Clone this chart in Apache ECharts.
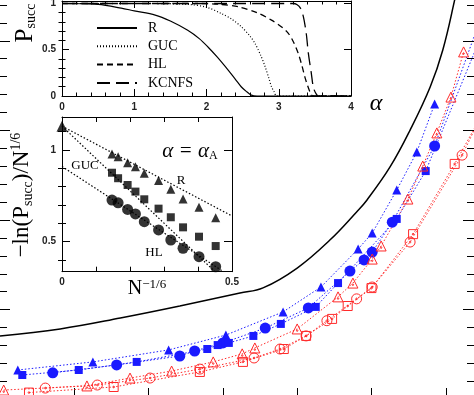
<!DOCTYPE html>
<html>
<head>
<meta charset="utf-8">
<script src="https://cdn.jsdelivr.net/npm/echarts@6/dist/echarts.min.js"></script>
<style>
html,body{margin:0;padding:0;background:#fff;}
#c{width:474px;height:395px;}
</style>
</head>
<body>
<div id="c"></div>
<script>
// ---------- main plot data (arbitrary units: x tick spacing = 1, y major tick spacing = 0.5) ----------
const blackX = [0, 0.81, 1.62, 2.42, 3.23, 3.54, 4.00, 4.44, 4.80, 4.94, 5.25, 5.52, 5.79, 5.96, 6.12, 6.19];
const blackY = [0.353, 0.392, 0.453, 0.520, 0.593, 0.621, 0.732, 0.888, 1.045, 1.112, 1.296, 1.502, 1.742, 1.949, 2.228, 2.367];

const blueTriX = [0.24, 1.25, 2.27, 3.04, 3.81, 4.32, 4.82, 5.01, 5.34, 5.61, 5.85];
const blueTriY = [0.163, 0.208, 0.275, 0.358, 0.487, 0.626, 0.838, 0.927, 1.167, 1.379, 1.647];
const blueCirX = [0.71, 1.57, 2.42, 2.62, 3.00, 3.57, 4.15, 4.71, 4.90, 5.01, 5.28, 5.85, 6.50];
const blueCirY = [0.147, 0.191, 0.241, 0.269, 0.314, 0.397, 0.509, 0.715, 0.777, 0.821, 0.988, 1.413, 2.16];
const blueSqX  = [0.30, 1.06, 1.84, 2.79, 2.93, 3.08, 3.41, 3.78, 4.25, 4.55, 5.34, 5.73, 6.45];
const blueSqY  = [0.135, 0.163, 0.208, 0.280, 0.302, 0.314, 0.353, 0.420, 0.515, 0.648, 1.006, 1.273, 2.0];

const redTriX = [0.05, 1.17, 1.75, 2.31, 2.87, 3.26, 3.43, 4.00, 4.55, 4.75, 5.01, 5.13, 5.49, 5.69, 5.88, 6.07, 6.24];
const redTriY = [0.051, 0.074, 0.118, 0.157, 0.208, 0.253, 0.286, 0.392, 0.571, 0.648, 0.782, 0.855, 1.117, 1.301, 1.486, 1.686, 1.938];
const redCirX = [0.61, 1.31, 2.02, 2.69, 3.42, 3.77, 4.12, 4.40, 4.80, 5.01, 5.52, 6.22, 6.50];
const redCirY = [0.062, 0.079, 0.118, 0.168, 0.230, 0.280, 0.353, 0.438, 0.560, 0.626, 0.877, 1.362, 1.60];
const redSqX  = [0.39, 1.53, 2.69, 3.27, 3.82, 4.12, 4.47, 4.68, 5.00, 5.56, 6.12, 6.45];
const redSqY  = [0.037, 0.068, 0.152, 0.208, 0.280, 0.353, 0.448, 0.520, 0.620, 0.921, 1.313, 1.56];

// main axes: visible window and tick positions
const mainXMin = 0, mainXMax = 6.38;
const mainYMin = 0.0234, mainYMax = 2.2277;
const mainXTicks = [1, 2, 3, 4, 5, 6];
const mainYMajor = [0.5, 1.0, 1.5, 2.0];
const mainYMinor = [0.1, 0.2, 0.3, 0.4, 0.6, 0.7, 0.8, 0.9, 1.1, 1.2, 1.3, 1.4, 1.6, 1.7, 1.8, 1.9, 2.1, 2.2];

// ---------- top inset: P_succ vs alpha ----------
const rAlpha = [0, 0.5, 0.82, 1.0, 1.29, 1.5, 1.74, 1.9, 2.02, 2.15, 2.3, 2.4, 2.48, 2.55, 2.62, 2.7, 4.0];
const rP     = [1, 0.99, 0.95, 0.92, 0.875, 0.81, 0.71, 0.62, 0.53, 0.42, 0.28, 0.18, 0.10, 0.05, 0.01, 0, 0];
const gucAlpha = [0, 1.2, 1.75, 2.0, 2.21, 2.35, 2.48, 2.6, 2.67, 2.75, 2.81, 2.86, 2.9, 2.94, 2.97, 4];
const gucP     = [1, 1, 0.99, 0.96, 0.89, 0.83, 0.75, 0.65, 0.57, 0.44, 0.32, 0.2, 0.1, 0.04, 0, 0];
const hlAlpha = [0, 1.9, 2.2, 2.44, 2.7, 2.9, 3.05, 3.13, 3.2, 3.27, 3.32, 3.36, 3.4, 3.44, 3.47, 4];
const hlP     = [1, 1, 0.99, 0.965, 0.9, 0.82, 0.74, 0.68, 0.59, 0.46, 0.33, 0.21, 0.11, 0.03, 0, 0];
const kcAlpha = [0, 3.2, 3.25, 3.3, 3.34, 3.38, 3.41, 3.45, 3.48, 3.52, 3.55, 4];
const kcP     = [1, 1, 0.99, 0.95, 0.86, 0.68, 0.46, 0.25, 0.09, 0.02, 0, 0];
const topY_major = [0, 0.5, 1];
const topY_minor = [0.1, 0.2, 0.3, 0.4, 0.6, 0.7, 0.8, 0.9];
const topY_labels = ['0', '0.5', '1'];

// ---------- bottom inset: -ln(P)/N^(1/6) vs N^(-1/6) at alpha_A ----------
const nInv    = [0.147, 0.165, 0.193, 0.216, 0.242, 0.284, 0.32, 0.356, 0.403, 0.452];
const insR    = [0.978, 0.963, 0.93, 0.909, 0.873, 0.833, 0.786, 0.733, 0.687, 0.631];
const insSq   = [0.876, 0.846, 0.809, 0.773, 0.731, 0.68, 0.633, 0.578, 0.527, 0.476];
const insCir  = [0.727, 0.712, 0.676, 0.651, 0.609, 0.564, 0.509, 0.464, 0.418, 0.363];
const extrapX = [0];
const extrapY = [1.13];
const fitRX = [0, 0.5],    fitRY = [1.13, 0.64];
const fitHX = [0, 0.45],   fitHY = [1.13, 0.336];
const fitGX = [0, 0.475],  fitGY = [0.91, 0.336];

const insY_major = [0.5, 1.0];
const insY_minor = [0.4, 0.6, 0.7, 0.8, 0.9, 1.1];
const insY_labels = ['0.5', '1'];

function zip(xs, ys){ return xs.map((x,i)=>[x, ys[i]]); }

const BLUE = '#1a1aff';
const RED = '#ff2a2a';
const SERIF = '"Liberation Serif", "DejaVu Serif", serif';
const SANS = '"Liberation Sans", Arial, sans-serif';

const triOpen = 'path://M5 0 L10 9 L0 9 Z M5 6 m-0.7 0 a0.7 0.7 0 1 0 1.4 0 a0.7 0.7 0 1 0 -1.4 0 Z';
const cirOpen = 'path://M5 0 a5 5 0 1 0 0.001 0 Z M5 5 m-0.8 0 a0.8 0.8 0 1 0 1.6 0 a0.8 0.8 0 1 0 -1.6 0 Z';
const sqOpen  = 'path://M0 0 L9 0 L9 9 L0 9 Z M4.5 4.5 m-0.8 0 a0.8 0.8 0 1 0 1.6 0 a0.8 0.8 0 1 0 -1.6 0 Z';

function mainSeries(name, xs, ys, color, symbol, size, open){
  return {
    name, type:'line', xAxisIndex:0, yAxisIndex:0,
    data: zip(xs, ys), symbol, symbolSize:size, showAllSymbol:true,
    lineStyle:{color, width:1, type:[1.5,2]},
    itemStyle: open ? {color:'rgba(255,255,255,0)', borderColor:color, borderWidth:1} : {color},
    smooth:false, z:3
  };
}

const tickBase = {show:true, inside:true, lineStyle:{color:'#000', width:1}};
const lineBase = {show:true, onZero:false, lineStyle:{color:'#000', width:1}};
const labelStyle = {show:true, color:'#222', fontFamily:SANS, fontSize:10, fontWeight:'bold'};

function customY(grid, min, max, pos, ticks, len, showLine){
  return {gridIndex:grid, type:'value', min, max, position:pos, z:6,
    axisLine: showLine ? lineBase : {show:false},
    axisTick: Object.assign({}, tickBase, {length:len, customValues:ticks}),
    axisLabel: {show:false},
    splitLine:{show:false}};
}

const baseGraphic = [
  {type:'text', x:25, y:23, rotation:Math.PI/2, z:20,
   style:{text:'{p|P}{s|succ}', align:'center', verticalAlign:'middle',
     rich:{p:{fontFamily:SERIF, fontSize:25, lineHeight:26, fill:'#000'},
           s:{fontFamily:SERIF, fontSize:14, lineHeight:14, verticalAlign:'bottom', fill:'#000'}}}},
  {type:'text', x:22, y:195, rotation:Math.PI/2, z:20,
   style:{text:'{m|−ln(P}{s|succ}{m|)/N}{u|1/6}', align:'center', verticalAlign:'middle',
     rich:{m:{fontFamily:SERIF, fontSize:23, lineHeight:26, fill:'#000'},
           s:{fontFamily:SERIF, fontSize:14, lineHeight:14, verticalAlign:'bottom', fill:'#000'},
           u:{fontFamily:SERIF, fontSize:14, lineHeight:14, verticalAlign:'top', fill:'#000'}}}},
  {type:'text', x:376, y:104, z:20,
   style:{text:'α', fontFamily:SERIF, fontSize:24, fontStyle:'italic', fill:'#000', align:'center', verticalAlign:'middle'}},
  {type:'text', x:147, y:289, z:20,
   style:{text:'{m|N}{u|−1/6}', align:'center', verticalAlign:'middle',
     rich:{m:{fontFamily:SERIF, fontSize:20, lineHeight:22, fill:'#000'},
           u:{fontFamily:SERIF, fontSize:13, lineHeight:13, verticalAlign:'top', fill:'#000'}}}},
  {type:'text', x:190, y:151, z:20,
   style:{text:'{m|α = α}{s|A}', align:'center', verticalAlign:'middle',
     rich:{m:{fontFamily:SERIF, fontSize:21, fontStyle:'italic', lineHeight:22, fill:'#000'},
           s:{fontFamily:SERIF, fontSize:12, lineHeight:12, verticalAlign:'bottom', fill:'#000'}}}},
  {type:'text', x:85, y:166, z:20,
   style:{text:'GUC', fontFamily:SERIF, fontSize:13, fill:'#000', align:'center', verticalAlign:'middle'}},
  {type:'text', x:181, y:181, z:20,
   style:{text:'R', fontFamily:SERIF, fontSize:13, fill:'#000', align:'center', verticalAlign:'middle'}},
  {type:'text', x:154, y:253, z:20,
   style:{text:'HL', fontFamily:SERIF, fontSize:13, fill:'#000', align:'center', verticalAlign:'middle'}}
];

const chart = echarts.init(document.getElementById('c'), null, {renderer:'canvas'});
const option = {
  animation:false,
  backgroundColor:'#fff',
  grid:[
    {left:0, right:0, top:0, bottom:0, containLabel:false, outerBoundsMode:'none'},
    {left:62, top:1, width:289, height:95, show:true, backgroundColor:'#fff', borderWidth:0, z:5, outerBoundsMode:'none'},
    {left:62, top:117, width:170, height:154.7, show:true, backgroundColor:'#fff', borderWidth:0, z:5, outerBoundsMode:'none'}
  ],
  xAxis:[
    {gridIndex:0, type:'value', min:mainXMin, max:mainXMax, position:'bottom',
     axisLine:{show:false}, axisTick:Object.assign({}, tickBase, {length:7, customValues:mainXTicks}),
     axisLabel:{show:false}, splitLine:{show:false}},
    {gridIndex:1, type:'value', min:0, max:4, interval:1, position:'bottom', z:6,
     axisLine:lineBase, axisTick:Object.assign({}, tickBase, {length:7}),
     minorTick:{show:true, splitNumber:5, length:3.5, lineStyle:{color:'#000'}},
     axisLabel:Object.assign({}, labelStyle, {margin:6}), splitLine:{show:false}, minorSplitLine:{show:false}},
    {gridIndex:1, type:'value', min:0, max:4, interval:1, position:'top', z:6,
     axisLine:lineBase, axisTick:Object.assign({}, tickBase, {length:7}),
     minorTick:{show:true, splitNumber:5, length:3.5, lineStyle:{color:'#000'}},
     axisLabel:{show:false}, splitLine:{show:false}},
    {gridIndex:2, type:'value', min:0, max:0.5, interval:0.1, position:'bottom', z:6,
     axisLine:lineBase, axisTick:Object.assign({}, tickBase, {length:5}),
     axisLabel:Object.assign({}, labelStyle, {margin:6, formatter:(v)=> (Math.abs(v)<1e-9 ? '0' : (Math.abs(v-0.5)<1e-9 ? '0.5' : ''))}),
     splitLine:{show:false}},
    {gridIndex:2, type:'value', min:0, max:0.5, interval:0.1, position:'top', z:6,
     axisLine:lineBase, axisTick:Object.assign({}, tickBase, {length:5}), axisLabel:{show:false}, splitLine:{show:false}}
  ],
  yAxis:[
    customY(0, mainYMin, mainYMax, 'left', mainYMajor, 10, false),   // 0
    customY(0, mainYMin, mainYMax, 'left', mainYMinor, 7, false),    // 1
    customY(0, mainYMin, mainYMax, 'right', mainYMajor, 11, false),  // 2
    customY(0, mainYMin, mainYMax, 'right', mainYMinor, 7, false),   // 3
    customY(1, 0, 1.027, 'left', topY_major, 7, true),               // 4
    customY(1, 0, 1.027, 'left', topY_minor, 3.5, false),            // 5
    customY(1, 0, 1.027, 'right', topY_major, 7, true),              // 6
    customY(1, 0, 1.027, 'right', topY_minor, 3.5, false),           // 7
    customY(2, 0.336, 1.18, 'left', insY_major, 8, true),            // 8
    customY(2, 0.336, 1.18, 'left', insY_minor, 4, false),           // 9
    customY(2, 0.336, 1.18, 'right', insY_major, 8, true),           // 10
    customY(2, 0.336, 1.18, 'right', insY_minor, 4, false)           // 11
  ],
  legend:{
    left:96, top:21, orient:'vertical', itemWidth:40, itemHeight:14, itemGap:4.3, padding:0,
    selectedMode:false,
    itemStyle:{opacity:0},
    textStyle:{fontFamily:SERIF, fontSize:14, color:'#000', padding:[0,0,0,6]},
    data:['R','GUC','HL','KCNFS'], z:10
  },
  series:[
    {name:'theory', type:'line', xAxisIndex:0, yAxisIndex:0, data:zip(blackX, blackY), symbol:'none', smooth:0.4,
     lineStyle:{color:'#000', width:1.5}, z:2},
    mainSeries('blueTri', blueTriX, blueTriY, BLUE, 'triangle', 9, false),
    mainSeries('blueCir', blueCirX, blueCirY, BLUE, 'circle', 11, false),
    mainSeries('blueSq', blueSqX, blueSqY, BLUE, 'rect', 8, false),
    mainSeries('redTri', redTriX, redTriY, RED, triOpen, 10, true),
    mainSeries('redCir', redCirX, redCirY, RED, cirOpen, 10, true),
    mainSeries('redSq', redSqX, redSqY, RED, sqOpen, 9, true),

    {name:'R', type:'line', xAxisIndex:1, yAxisIndex:4, data:zip(rAlpha, rP), symbol:'none', smooth:0.3,
     itemStyle:{color:'#000'}, lineStyle:{color:'#000', width:1.2, type:'solid'}, z:7},
    {name:'GUC', type:'line', xAxisIndex:1, yAxisIndex:4, data:zip(gucAlpha, gucP), symbol:'none', smooth:0.3,
     itemStyle:{color:'#000'}, lineStyle:{color:'#000', width:1.2, type:[1,2]}, z:7},
    {name:'HL', type:'line', xAxisIndex:1, yAxisIndex:4, data:zip(hlAlpha, hlP), symbol:'none', smooth:0.3,
     itemStyle:{color:'#000'}, lineStyle:{color:'#000', width:1.3, type:[6,4]}, z:7},
    {name:'KCNFS', type:'line', xAxisIndex:1, yAxisIndex:4, data:zip(kcAlpha, kcP), symbol:'none', smooth:0.3,
     itemStyle:{color:'#000'}, lineStyle:{color:'#000', width:1.3, type:[13,6]}, z:7},

    {name:'fitR', type:'line', xAxisIndex:3, yAxisIndex:8, data:zip(fitRX, fitRY), symbol:'none',
     lineStyle:{color:'#000', width:1.2, type:[1.5,2]}, z:7},
    {name:'fitH', type:'line', xAxisIndex:3, yAxisIndex:8, data:zip(fitHX, fitHY), symbol:'none',
     lineStyle:{color:'#000', width:1.2, type:[1.5,2]}, z:7},
    {name:'fitG', type:'line', xAxisIndex:3, yAxisIndex:8, data:zip(fitGX, fitGY), symbol:'none',
     lineStyle:{color:'#000', width:1.2, type:[1.5,2]}, z:7},
    {name:'insR', type:'scatter', xAxisIndex:3, yAxisIndex:8, data:zip(nInv, insR), symbol:'triangle', symbolSize:9,
     itemStyle:{color:'#000'}, z:8},
    {name:'insSq', type:'scatter', xAxisIndex:3, yAxisIndex:8, data:zip(nInv, insSq), symbol:'rect', symbolSize:8,
     itemStyle:{color:'#000'}, z:8},
    {name:'insCir', type:'scatter', xAxisIndex:3, yAxisIndex:8, data:zip(nInv, insCir), symbol:'circle', symbolSize:11,
     itemStyle:{color:'#000'}, z:8},
    {name:'extrap', type:'scatter', xAxisIndex:3, yAxisIndex:8, data:zip(extrapX, extrapY), symbol:'triangle', symbolSize:11,
     itemStyle:{color:'#000'}, clip:false, z:9}
  ],
  graphic: baseGraphic
};
chart.setOption(option);

// y tick labels of the two insets, placed through the axes' own scales, on a top layer
const tickLabels = [];
topY_major.forEach((v, i) => {
  const p = chart.convertToPixel({xAxisIndex:1, yAxisIndex:4}, [0, v]);
  tickLabels.push({type:'text', x:p[0]-6, y:p[1], z:50, zlevel:1,
    style:{text:topY_labels[i], fontFamily:SANS, fontSize:10, fontWeight:'bold', fill:'#222', align:'right', verticalAlign:'middle'}});
});
insY_major.forEach((v, i) => {
  const p = chart.convertToPixel({xAxisIndex:3, yAxisIndex:8}, [0, v]);
  tickLabels.push({type:'text', x:p[0]-6, y:p[1], z:50, zlevel:1,
    style:{text:insY_labels[i], fontFamily:SANS, fontSize:10, fontWeight:'bold', fill:'#222', align:'right', verticalAlign:'middle'}});
});
chart.setOption({graphic: baseGraphic.concat(tickLabels)});
</script>
</body>
</html>
